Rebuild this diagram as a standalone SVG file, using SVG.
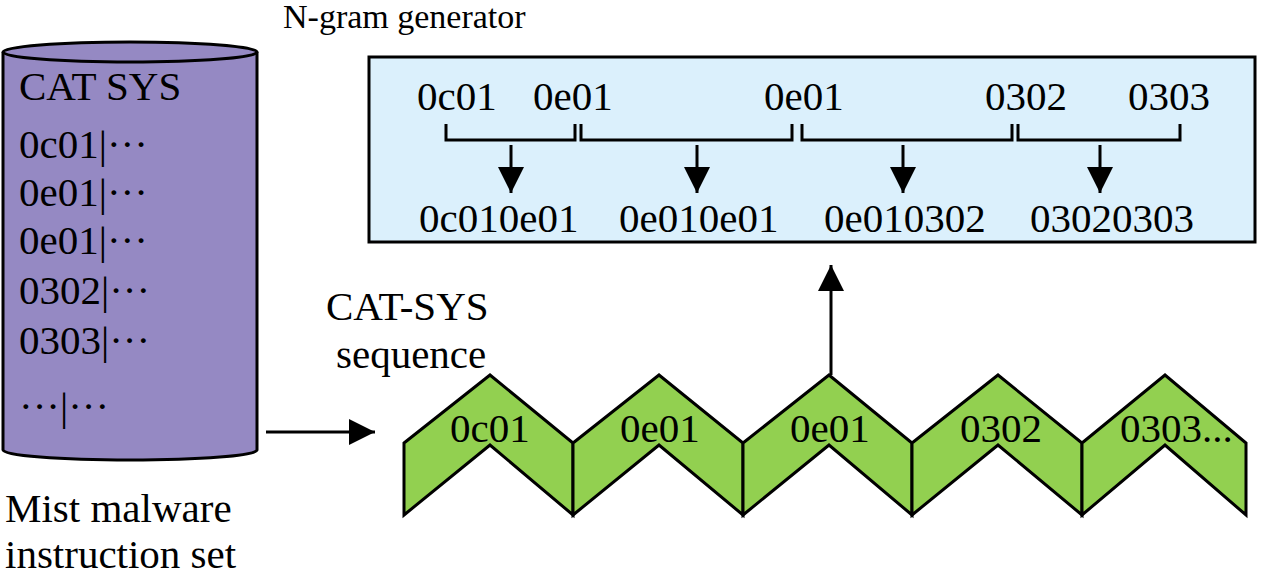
<svg xmlns="http://www.w3.org/2000/svg" width="1270" height="575" viewBox="0 0 1270 575">
<style>
text{font-family:"Liberation Serif",serif;font-size:41px;fill:#000}
.ch{fill:#92d050;stroke:#000;stroke-width:3;stroke-linejoin:miter}
.ln{fill:none;stroke:#000;stroke-width:3}
</style>
<defs>
<marker id="ah2" viewBox="0 0 10 10" refX="10" refY="5" markerWidth="26" markerHeight="26" markerUnits="userSpaceOnUse" orient="auto"><path d="M0,0 L10,5 L0,10 Z" fill="#000"/></marker></defs>
<g id="cylinder">
<path d="M3,52 L3,450 A127,10 0 0 0 257,450 L257,52" fill="#9589c3" stroke="#000" stroke-width="3"/>
<ellipse cx="130" cy="52" rx="127" ry="10" fill="#9589c3" stroke="#000" stroke-width="3"/>
<text x="19" y="100">CAT SYS</text>
<text x="19" y="158">0c01|···</text>
<text x="19" y="206">0e01|···</text>
<text x="19" y="254">0e01|···</text>
<text x="19" y="304">0302|···</text>
<text x="19" y="354">0303|···</text>
<text x="19" y="420">···|···</text>
</g>
<text x="5" y="522">Mist malware</text>
<text x="5" y="568">instruction set</text>
<text x="283" y="28" style="font-size:34px">N-gram generator</text>
<g id="generator">
<rect x="369" y="57" width="886" height="185" fill="#dbf0fc" stroke="#000" stroke-width="3"/>
<text x="417" y="110">0c01</text>
<text x="533" y="110">0e01</text>
<text x="764" y="110">0e01</text>
<text x="985" y="110">0302</text>
<text x="1128" y="110">0303</text>
<text x="419" y="232">0c010e01</text>
<text x="619" y="232">0e010e01</text>
<text x="824" y="232">0e010302</text>
<text x="1030" y="232">03020303</text>
</g>
<g id="chevrons">
<path class="ch" d="M404,443 L490,375 L573,443 L573,515 L490,445 L404,515 Z"/>
<path class="ch" d="M573,443 L659,375 L743,443 L743,515 L659,445 L573,515 Z"/>
<path class="ch" d="M743,443 L829,375 L912,443 L912,515 L829,445 L743,515 Z"/>
<path class="ch" d="M912,443 L998,375 L1082,443 L1082,515 L998,445 L912,515 Z"/>
<path class="ch" d="M1082,443 L1165,375 L1246,443 L1246,515 L1165,445 L1082,515 Z"/>
<text x="450" y="442">0c01</text>
<text x="620" y="442">0e01</text>
<text x="790" y="442">0e01</text>
<text x="960" y="442">0302</text>
<text x="1120" y="442">0303...</text>
</g>
<text x="326" y="320">CAT-SYS</text>
<text x="336" y="368">sequence</text>
<g id="connectors">
<path class="ln" d="M446,124 V140 H575 V124 M581,124 V140 H792 V124 M802,124 V140 H1012 V124 M1018,124 V140 H1180 V124"/>
<path class="ln" d="M511,145 V193" marker-end="url(#ah2)"/>
<path class="ln" d="M697,145 V193" marker-end="url(#ah2)"/>
<path class="ln" d="M903,145 V193" marker-end="url(#ah2)"/>
<path class="ln" d="M1100,145 V193" marker-end="url(#ah2)"/>
<path class="ln" d="M266,432 H375" marker-end="url(#ah2)"/>
<path class="ln" d="M831,375 V265" marker-end="url(#ah2)"/>
</g>
</svg>
